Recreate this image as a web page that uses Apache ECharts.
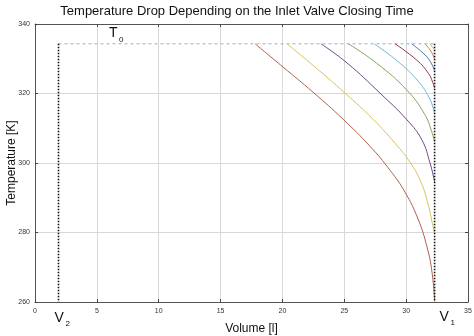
<!DOCTYPE html>
<html>
<head>
<meta charset="utf-8">
<script src="https://cdn.jsdelivr.net/npm/echarts@6/dist/echarts.min.js"></script>
<style>html,body{margin:0;padding:0;background:#fff}#c{width:474px;height:336px}</style>
</head>
<body>
<div id="c"></div>
<script>
const titleText = 'Temperature Drop Depending on the Inlet Valve Closing Time';
const xName = 'Volume [l]';
const yName = 'Temperature [K]';
const xTicks = [0, 5, 10, 15, 20, 25, 30, 35];
const yTicks = [260, 280, 300, 320, 340];
const T0 = 334.3;
const V1 = 32.3;
const V2 = 1.9;

// curves (volume [l], temperature [K]), outermost first
const curve1 = [[17.79,334.3],[20.05,327.6],[22.47,320.4],[24.90,312.6],[27.08,304.8],[28.70,297.9],[29.91,291.6],[30.96,283.9],[31.69,275.8],[32.09,268.6],[32.30,260.3]];
const curve2 = [[20.37,334.3],[22.64,327.6],[25.06,320.1],[27.32,312.6],[29.10,305.7],[30.32,300.2],[31.20,294.5],[31.77,288.2],[32.09,283.1],[32.30,279.8]];
const curve3 = [[23.12,334.3],[25.22,328.8],[27.89,320.1],[30.07,312.4],[31.28,306.6],[31.93,300.0],[32.22,295.9],[32.30,294.5]];
const curve4 = [[25.33,334.3],[27.62,328.7],[30.05,321.0],[31.50,314.0],[32.07,309.0],[32.30,306.0]];
const curve5 = [[27.41,334.3],[29.51,328.7],[31.12,322.9],[31.93,318.3],[32.20,315.6],[32.30,314.4]];
const curve6 = [[29.10,334.3],[30.86,329.6],[31.80,325.8],[32.15,323.2],[32.30,321.5]];
const curve7 = [[30.45,334.3],[31.53,331.1],[32.00,328.9],[32.30,326.5]];
const curve8 = [[31.53,334.3],[32.00,332.2],[32.30,330.0]];
const curve9 = [[31.93,334.3],[32.30,332.5]];
const curves = [curve1, curve2, curve3, curve4, curve5, curve6, curve7, curve8, curve9];
const colors = ['#b0604c','#d9c25a','#6e4a86','#82a656','#6fb8d8','#8a3a4c','#4a74a8','#c47a4e','#d8b860'];

const chart = echarts.init(document.getElementById('c'), null, {renderer: 'canvas'});
const FONT = 'Liberation Sans';

const series = curves.map((c, i) => ({
  type: 'line', data: c, smooth: 0.45, symbol: 'none',
  lineStyle: {color: colors[i], width: 1}, z: 3
}));
series.push({
  type: 'line', data: [[V2, T0], [V1, T0]], symbol: 'none',
  lineStyle: {color: '#9ab0c4', width: 1, type: [3, 3]}, z: 2
});
series.push({
  type: 'line', data: [[V2, T0], [V2, 260]], symbol: 'none',
  lineStyle: {color: '#111', width: 1.6, type: [1.5, 1.5]}, z: 4
});
series.push({
  type: 'line', data: [[V1, T0], [V1, 260]], symbol: 'none',
  lineStyle: {color: '#111', width: 1.6, type: [1.5, 1.5]}, z: 4
});

chart.setOption({
  animation: false,
  backgroundColor: '#fff',
  title: {text: titleText, left: 'center', top: 0,
    textStyle: {fontFamily: FONT, fontSize: 13, fontWeight: 'normal', color: '#111'}},
  grid: {left: 35, right: 6, top: 24, bottom: 34, containLabel: false, outerBoundsMode: 'none'},
  xAxis: [{
    type: 'value', min: 0, max: 35, interval: 5,
    name: xName, nameLocation: 'middle', nameGap: 21, nameMoveOverlap: false,
    nameTextStyle: {fontFamily: FONT, fontSize: 12, color: '#111'},
    axisLine: {show: true, onZero: false, lineStyle: {color: '#555', width: 1}},
    axisTick: {show: true, inside: true, length: 3, lineStyle: {color: '#444'}},
    axisLabel: {fontFamily: FONT, fontSize: 7, color: '#333', margin: 6,
      formatter: v => xTicks.includes(v) ? String(v) : ''},
    splitLine: {show: true, lineStyle: {color: '#d8d8d8', width: 1}}
  }, {
    type: 'value', min: 0, max: 35, interval: 5, position: 'top',
    axisLine: {show: true, onZero: false, lineStyle: {color: '#555', width: 1}},
    axisTick: {show: true, inside: true, length: 3, lineStyle: {color: '#444'}},
    axisLabel: {show: false}, splitLine: {show: false}
  }],
  yAxis: [{
    type: 'value', min: 260, max: 340, interval: 20,
    name: yName, nameLocation: 'middle', nameGap: 17, nameRotate: 90, nameMoveOverlap: false,
    nameTextStyle: {fontFamily: FONT, fontSize: 12, color: '#111'},
    axisLine: {show: true, onZero: false, lineStyle: {color: '#555', width: 1}},
    axisTick: {show: true, inside: true, length: 3, lineStyle: {color: '#444'}},
    axisLabel: {fontFamily: FONT, fontSize: 7, color: '#333', margin: 5,
      formatter: v => yTicks.includes(v) ? String(v) : ''},
    splitLine: {show: true, lineStyle: {color: '#d8d8d8', width: 1}}
  }, {
    type: 'value', min: 260, max: 340, interval: 20, position: 'right',
    axisLine: {show: true, onZero: false, lineStyle: {color: '#555', width: 1}},
    axisTick: {show: true, inside: true, length: 3, lineStyle: {color: '#444'}},
    axisLabel: {show: false}, splitLine: {show: false}
  }],
  series: series
});

// annotation labels placed from data coordinates
const pT = chart.convertToPixel({xAxisIndex: 0, yAxisIndex: 0}, [6.3, 337.6]);
const pV2 = chart.convertToPixel({xAxisIndex: 0, yAxisIndex: 0}, [V2, 260]);
const pV1 = chart.convertToPixel({xAxisIndex: 0, yAxisIndex: 0}, [V1, 260]);
const big = {fontFamily: FONT, fontSize: 14, fill: '#111'};
const sub = {fontFamily: FONT, fontSize: 8, fill: '#111'};
chart.setOption({
  graphic: [
    {type: 'text', left: pT[0] - 4, top: pT[1] - 6, style: Object.assign({text: 'T'}, big)},
    {type: 'text', left: pT[0] + 6, top: pT[1] + 3, style: Object.assign({text: '0'}, sub)},
    {type: 'text', left: pV2[0] - 4, top: pV2[1] + 9, style: Object.assign({text: 'V'}, big)},
    {type: 'text', left: pV2[0] + 7, top: pV2[1] + 18, style: Object.assign({text: '2'}, sub)},
    {type: 'text', left: pV1[0] + 5, top: pV1[1] + 8, style: Object.assign({text: 'V'}, big)},
    {type: 'text', left: pV1[0] + 16, top: pV1[1] + 17, style: Object.assign({text: '1'}, sub)}
  ]
});
</script>
</body>
</html>
